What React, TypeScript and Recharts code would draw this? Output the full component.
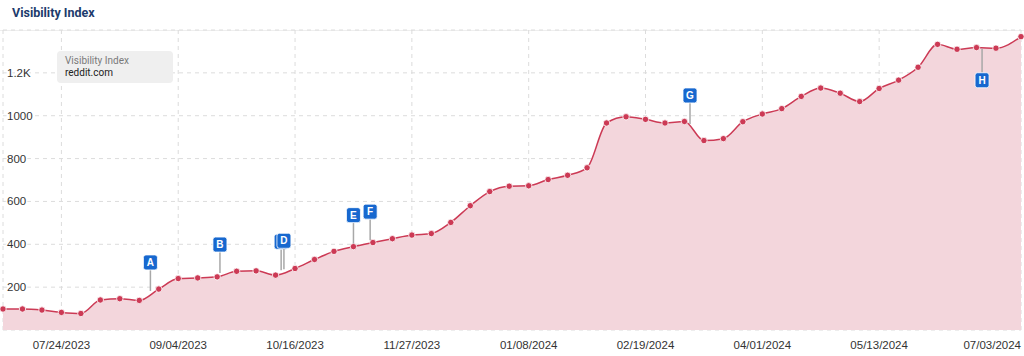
import { Area, AreaChart, CartesianGrid, ReferenceDot, XAxis, YAxis } from 'recharts'

const dates = [
  '2023-07-03', '2023-07-10', '2023-07-17', '2023-07-24', '2023-07-31', '2023-08-07', '2023-08-14',
  '2023-08-21', '2023-08-28', '2023-09-04', '2023-09-11', '2023-09-18', '2023-09-25', '2023-10-02',
  '2023-10-09', '2023-10-16', '2023-10-23', '2023-10-30', '2023-11-06', '2023-11-13', '2023-11-20',
  '2023-11-27', '2023-12-04', '2023-12-11', '2023-12-18', '2023-12-25', '2024-01-01', '2024-01-08',
  '2024-01-15', '2024-01-22', '2024-01-29', '2024-02-05', '2024-02-12', '2024-02-19', '2024-02-26',
  '2024-03-04', '2024-03-11', '2024-03-18', '2024-03-25', '2024-04-01', '2024-04-08', '2024-04-15',
  '2024-04-22', '2024-04-29', '2024-05-06', '2024-05-13', '2024-05-20', '2024-05-27', '2024-06-03',
  '2024-06-10', '2024-06-17', '2024-06-24', '2024-07-03',
]

const visibility = [
  98, 98, 93, 82, 77, 140, 146, 138, 191, 240, 243, 248, 274, 276, 256, 287, 329, 367, 389, 408, 426,
  443, 450, 502, 580, 646, 671, 673, 702, 722, 757, 966, 995, 983, 966, 973, 884, 893, 972, 1008, 1033,
  1090, 1129, 1105, 1066, 1127, 1166, 1226, 1333, 1310, 1318, 1315, 1369,
]

const tickDates = [
  '2023-07-24', '2023-09-04', '2023-10-16', '2023-11-27', '2024-01-08', '2024-02-19', '2024-04-01',
  '2024-05-13', '2024-07-03',
]

const yTicks = [200, 400, 600, 800, 1000, 1200]

const eventLabels = ['A', 'B', 'C', 'D', 'E', 'F', 'G', 'H']
const eventDates = [
  '2023-08-25', '2023-09-19', '2023-10-11', '2023-10-12', '2023-11-06', '2023-11-12', '2024-03-06',
  '2024-06-19',
]
const eventBelow = [false, false, false, false, false, false, false, true]

const LINE = '#cc3a55'
const FILL = '#f3d6dc'
const GRID = '#dcdcdc'
const FONT = "'Liberation Sans', Arial, sans-serif"

const toTs = (d: string) => Date.parse(d + 'T00:00:00Z')

const data = dates.map((d, i) => ({ t: toTs(d), value: visibility[i] }))

// value of the line at a given time, read between the two weekly points
const valueAt = (t: number) => {
  for (let i = 0; i < data.length - 1; i++) {
    const a = data[i]
    const b = data[i + 1]
    if (t >= a.t && t <= b.t) return a.value + ((b.value - a.value) * (t - a.t)) / (b.t - a.t)
  }
  return data[data.length - 1].value
}

const events = eventLabels.map((label, i) => {
  const t = toTs(eventDates[i])
  return { label, t, value: valueAt(t), below: eventBelow[i] }
})

const fmtDate = (t: number) => {
  const d = new Date(t)
  const mm = String(d.getUTCMonth() + 1).padStart(2, '0')
  const dd = String(d.getUTCDate()).padStart(2, '0')
  return `${mm}/${dd}/${d.getUTCFullYear()}`
}

const fmtValue = (v: number) => (v >= 1100 ? `${(v / 1000).toFixed(1)}K` : String(v))

const lastTick = toTs(tickDates[tickDates.length - 1])

function XTick(props: any) {
  const { x, y, payload } = props
  const isLast = payload.value === lastTick
  return (
    <text x={x} y={y + 11} textAnchor={isLast ? 'end' : 'middle'} fill="#333" fontSize={11.5} fontFamily={FONT}>
      {fmtDate(payload.value)}
    </text>
  )
}

function YTick(props: any) {
  const { y, payload } = props
  return (
    <text
      x={7}
      y={y + 4}
      textAnchor="start"
      fill="#333"
      fontSize={11.5}
      fontFamily={FONT}
      stroke="#fff"
      strokeWidth={3}
      paintOrder="stroke"
    >
      {fmtValue(payload.value)}
    </text>
  )
}

function Marker(props: any) {
  const { cx, cy, label, below } = props
  if (cx == null || cy == null) return null
  const stemStart = below ? cy + 1 : cy - 3
  const stemEnd = below ? cy + 25 : cy - 24
  const boxY = below ? stemEnd : stemEnd - 15
  return (
    <g>
      <line x1={cx} y1={stemStart} x2={cx} y2={stemEnd} stroke="#a8a8a8" strokeWidth={1.5} />
      <rect x={cx - 7} y={boxY} width={14} height={15} rx={2.5} fill="#1768cf" stroke="#fff" strokeWidth={0.8} />
      <text x={cx} y={boxY + 11.2} textAnchor="middle" fill="#fff" fontSize={10} fontWeight="bold" fontFamily={FONT}>
        {label}
      </text>
    </g>
  )
}

export default function App() {
  return (
    <div style={{ position: 'absolute', left: 0, top: 0, width: 1024, height: 356, background: '#fff', overflow: 'hidden' }}>
      <div
        style={{
          position: 'absolute',
          left: 12,
          top: 5,
          fontFamily: 'Roboto, Arial, sans-serif',
          fontWeight: 700,
          fontSize: 12.5,
          color: '#1d3b6c',
        }}
      >
        Visibility Index
      </div>
      <div style={{ position: 'absolute', left: 0, top: 30, width: 1024, height: 1, background: '#eeeeee' }} />
      <AreaChart width={1024} height={356} data={data} margin={{ top: 30, right: 3, bottom: 0, left: 3 }}>
        <CartesianGrid stroke={GRID} strokeDasharray="4 4" />
        <XAxis
          dataKey="t"
          type="number"
          scale="time"
          domain={['dataMin', 'dataMax']}
          ticks={tickDates.map(toTs)}
          tick={<XTick />}
          axisLine={false}
          tickLine={false}
          height={26}
          interval={0}
        />
        <YAxis
          domain={[0, 1400]}
          ticks={yTicks}
          mirror
          interval={0}
          tick={<YTick />}
          axisLine={false}
          tickLine={false}
        />
        <Area
          type="monotone"
          dataKey="value"
          stroke={LINE}
          strokeWidth={1.5}
          fill={FILL}
          fillOpacity={1}
          dot={{ r: 3.2, fill: LINE, stroke: '#fff', strokeWidth: 0.8 }}
          activeDot={false}
          isAnimationActive={false}
        />
        {events.map((e) => (
          <ReferenceDot
            key={e.label}
            x={e.t}
            y={e.value}
            ifOverflow="visible"
            shape={(p: any) => <Marker {...p} label={e.label} below={e.below} />}
          />
        ))}
      </AreaChart>
      <div
        style={{
          position: 'absolute',
          left: 57,
          top: 51,
          width: 116,
          height: 32,
          background: '#efefef',
          borderRadius: 4,
          fontFamily: 'Roboto, Arial, sans-serif',
          fontSize: 10,
          lineHeight: '12px',
          boxSizing: 'border-box',
          padding: '4px 0 0 8px',
        }}
      >
        <div style={{ color: '#7a7a7a' }}>Visibility Index</div>
        <div style={{ color: '#222' }}>reddit.com</div>
      </div>
    </div>
  )
}
